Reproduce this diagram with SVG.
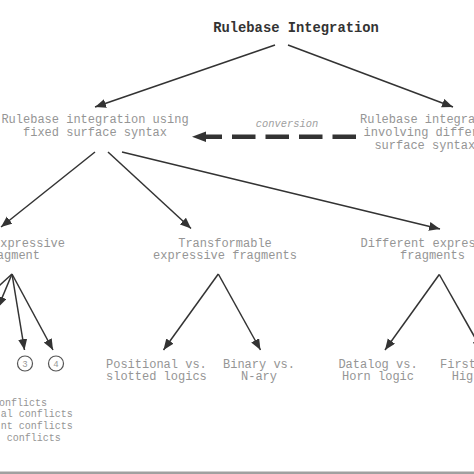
<svg xmlns="http://www.w3.org/2000/svg" width="474" height="474" viewBox="0 0 474 474">
<style>
.t{font-family:"Courier New",Courier,"Nimbus Mono PS","FreeMono","Liberation Mono",monospace;font-size:12px;fill:#959595}
.title{font-family:"Courier New",Courier,"Nimbus Mono PS","FreeMono","Liberation Mono",monospace;font-size:13.8px;font-weight:bold;fill:#333}
.conv{font-family:"Courier New",Courier,"Nimbus Mono PS","FreeMono","Liberation Mono",monospace;font-size:10.4px;font-style:italic;fill:#a0a0a0}
.small{font-family:"Courier New",Courier,"Nimbus Mono PS","FreeMono","Liberation Mono",monospace;font-size:10px;fill:#959595}
.num{font-family:"Courier New",Courier,"Nimbus Mono PS","FreeMono","Liberation Mono",monospace;font-size:9px;fill:#999}
.a{stroke:#333;stroke-width:1.5;fill:none;marker-end:url(#ah)}
.c{fill:none;stroke:#555;stroke-width:1.2}
</style>
<defs>
<marker id="ah" markerUnits="userSpaceOnUse" markerWidth="12" markerHeight="10" refX="11" refY="4.5" orient="auto">
<path d="M0,0 L11,4.5 L0,9 Z" fill="#333"/>
</marker>
<marker id="dh" markerUnits="userSpaceOnUse" markerWidth="15" markerHeight="11" refX="0" refY="5.25" orient="auto">
<path d="M0,0 L14,5.25 L0,10.5 Z" fill="#333"/>
</marker>
</defs>
<rect width="474" height="474" fill="#fff"/>
<rect x="0" y="471.5" width="474" height="2.5" fill="#a0a0a0"/>

<g id="connectors">
<line class="a" x1="275" y1="45" x2="95" y2="107"/>
<line class="a" x1="288" y1="45" x2="453" y2="107"/>
<line x1="356" y1="136.7" x2="206" y2="136.7" stroke="#333" stroke-width="4.5" stroke-dasharray="23.5 10" marker-end="url(#dh)"/>
<line class="a" x1="95" y1="152" x2="1" y2="227"/>
<line class="a" x1="108" y1="152" x2="191" y2="228.5"/>
<line class="a" x1="122" y1="152" x2="440" y2="229"/>
<line class="a" x1="12" y1="274" x2="-30" y2="312.5"/>
<line class="a" x1="12" y1="274" x2="-2" y2="307.5"/>
<line class="a" x1="12" y1="274" x2="24.5" y2="350"/>
<line class="a" x1="12" y1="274" x2="53" y2="350"/>
<line class="a" x1="218.3" y1="274" x2="163.5" y2="350"/>
<line class="a" x1="218.3" y1="274" x2="260.5" y2="350"/>
<line class="a" x1="439.3" y1="274.5" x2="385" y2="350"/>
<line class="a" x1="439.3" y1="274.5" x2="482" y2="350"/>
</g>

<g id="title"><text class="title" x="296" y="31.5" text-anchor="middle">Rulebase Integration</text></g>

<g id="fixed">
<text class="t" x="95" y="123.3" text-anchor="middle">Rulebase integration using</text>
<text class="t" x="95" y="136" text-anchor="middle">fixed surface syntax</text>
</g>

<g id="different-syntax">
<text class="t" x="432" y="123.3" text-anchor="middle">Rulebase integration</text>
<text class="t" x="432" y="136" text-anchor="middle">involving different</text>
<text class="t" x="432" y="148.7" text-anchor="middle">surface syntaxes</text>
</g>

<g id="conversion-label"><text class="conv" x="287" y="126.5" text-anchor="middle">conversion</text></g>

<g id="same-fragment">
<text class="t" x="65" y="246.5" text-anchor="end">xpressive</text>
<text class="t" x="40" y="259" text-anchor="end">agment</text>
</g>

<g id="transformable">
<text class="t" x="225" y="246.5" text-anchor="middle">Transformable</text>
<text class="t" x="225" y="259" text-anchor="middle">expressive fragments</text>
</g>

<g id="different-fragments">
<text class="t" x="432.5" y="246.5" text-anchor="middle">Different expressive</text>
<text class="t" x="432.5" y="259" text-anchor="middle">fragments</text>
</g>

<g id="c3"><circle class="c" cx="25" cy="363.5" r="7.5"/><text class="num" x="25" y="366.6" text-anchor="middle">3</text></g>
<g id="c4"><circle class="c" cx="56" cy="363.5" r="7.5"/><text class="num" x="56" y="366.6" text-anchor="middle">4</text></g>

<g id="conflicts">
<text class="small" x="47" y="405.5" text-anchor="end">onflicts</text>
<text class="small" x="72.7" y="417.3" text-anchor="end">al conflicts</text>
<text class="small" x="72.7" y="429" text-anchor="end">nt conflicts</text>
<text class="small" x="60.7" y="441" text-anchor="end">conflicts</text>
</g>

<g id="positional">
<text class="t" x="156.4" y="367.5" text-anchor="middle">Positional vs.</text>
<text class="t" x="156.4" y="380" text-anchor="middle">slotted logics</text>
</g>

<g id="binary">
<text class="t" x="259" y="367.5" text-anchor="middle">Binary vs.</text>
<text class="t" x="259" y="380" text-anchor="middle">N-ary</text>
</g>

<g id="datalog">
<text class="t" x="378" y="367.5" text-anchor="middle">Datalog vs.</text>
<text class="t" x="378" y="380" text-anchor="middle">Horn logic</text>
</g>

<g id="first-order">
<text class="t" x="440" y="367.5">First</text>
<text class="t" x="451.7" y="380">Hig</text>
</g>
</svg>
